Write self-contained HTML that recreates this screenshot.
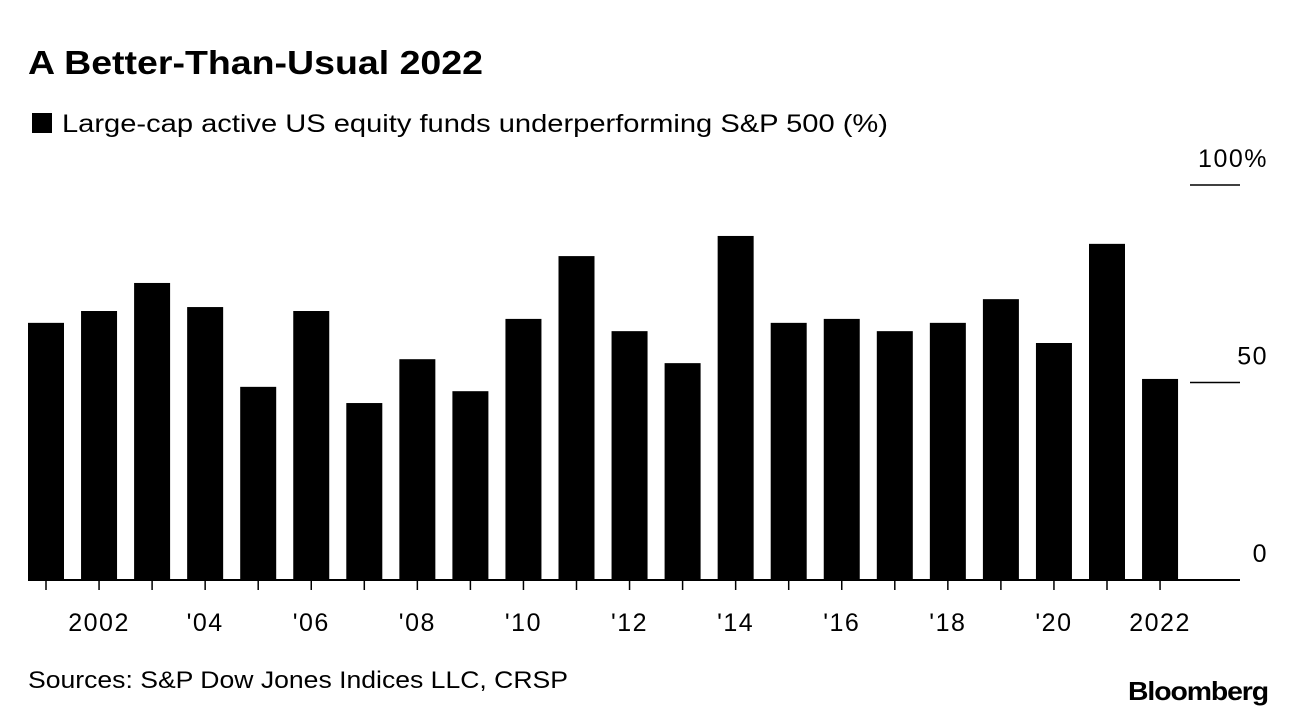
<!DOCTYPE html>
<html><head><meta charset="utf-8"><style>
body{margin:0;background:#fff;width:1296px;height:718px;overflow:hidden;font-family:"Liberation Sans",sans-serif;color:#000}
</style></head><body>
<svg width="1296" height="718" xmlns="http://www.w3.org/2000/svg" font-family="Liberation Sans, sans-serif">
<text x="28" y="74" font-size="33" font-weight="bold" textLength="455" lengthAdjust="spacingAndGlyphs">A Better-Than-Usual 2022</text>
<rect x="32" y="113" width="20" height="20" fill="#000"/>
<text x="62" y="132" font-size="25" textLength="826" lengthAdjust="spacingAndGlyphs">Large-cap active US equity funds underperforming S&amp;P 500 (%)</text>
<g id="bars"></g>
<g id="axes"></g>
<text x="28" y="688" font-size="24" textLength="540" lengthAdjust="spacingAndGlyphs">Sources: S&amp;P Dow Jones Indices LLC, CRSP</text>
<text x="1268" y="700" font-size="26" font-weight="bold" text-anchor="end" letter-spacing="-1" textLength="140" lengthAdjust="spacingAndGlyphs">Bloomberg</text>
</svg>
<script>
const years=[2001,2002,2003,2004,2005,2006,2007,2008,2009,2010,2011,2012,2013,2014,2015,2016,2017,2018,2019,2020,2021,2022];
const values=[65.1,68.1,75.2,69.1,48.9,68.1,44.8,55.9,47.8,66.1,82.0,63.0,54.9,87.1,65.1,66.1,63.0,65.1,71.1,60.0,85.1,50.9];
const yTicks=[0,50,100];
const yTickLabels=["0","50","100%"];
const xLabelYears=[2002,2004,2006,2008,2010,2012,2014,2016,2018,2020,2022];
const xLabels=["2002","'04","'06","'08","'10","'12","'14","'16","'18","'20","2022"];
const NS="http://www.w3.org/2000/svg";
const y=v=>580-v*3.95;
const x=yr=>28+(yr-2001)*53.05;
const bw=36;
const bars=document.getElementById('bars'),axes=document.getElementById('axes');
function mk(tag,at,parent){const e=document.createElementNS(NS,tag);for(const k in at)e.setAttribute(k,at[k]);parent.appendChild(e);return e;}
years.forEach((yr,i)=>{
  const r=mk('rect',{x:x(yr),y:y(values[i]),width:bw,height:y(0)-y(values[i]),fill:'#000'},bars);
  
  
});
const base=mk('line',{x1:28,x2:1240,y1:580,y2:580,stroke:'#000','stroke-width':2},axes);


years.forEach(yr=>{
  const t=mk('line',{x1:x(yr)+bw/2,x2:x(yr)+bw/2,y1:580,y2:590,stroke:'#000','stroke-width':1.5},axes);
  
  
});
xLabelYears.forEach((yr,i)=>{
  const t=mk('text',{x:x(yr)+bw/2,y:631,'font-size':25,'text-anchor':'middle','letter-spacing':1.5},axes);
  t.textContent=xLabels[i];
  
  
});
yTicks.forEach((v,i)=>{
  if(v>0){const l=mk('line',{x1:1190,x2:1240,y1:y(v),y2:y(v),stroke:'#000','stroke-width':1.5},axes);
  
  }
  const t=mk('text',{x:1268,y:y(v)-18,'font-size':25,'text-anchor':'end','letter-spacing':1.5},axes);
  t.textContent=yTickLabels[i];
  
  
});
</script>
</body></html>
